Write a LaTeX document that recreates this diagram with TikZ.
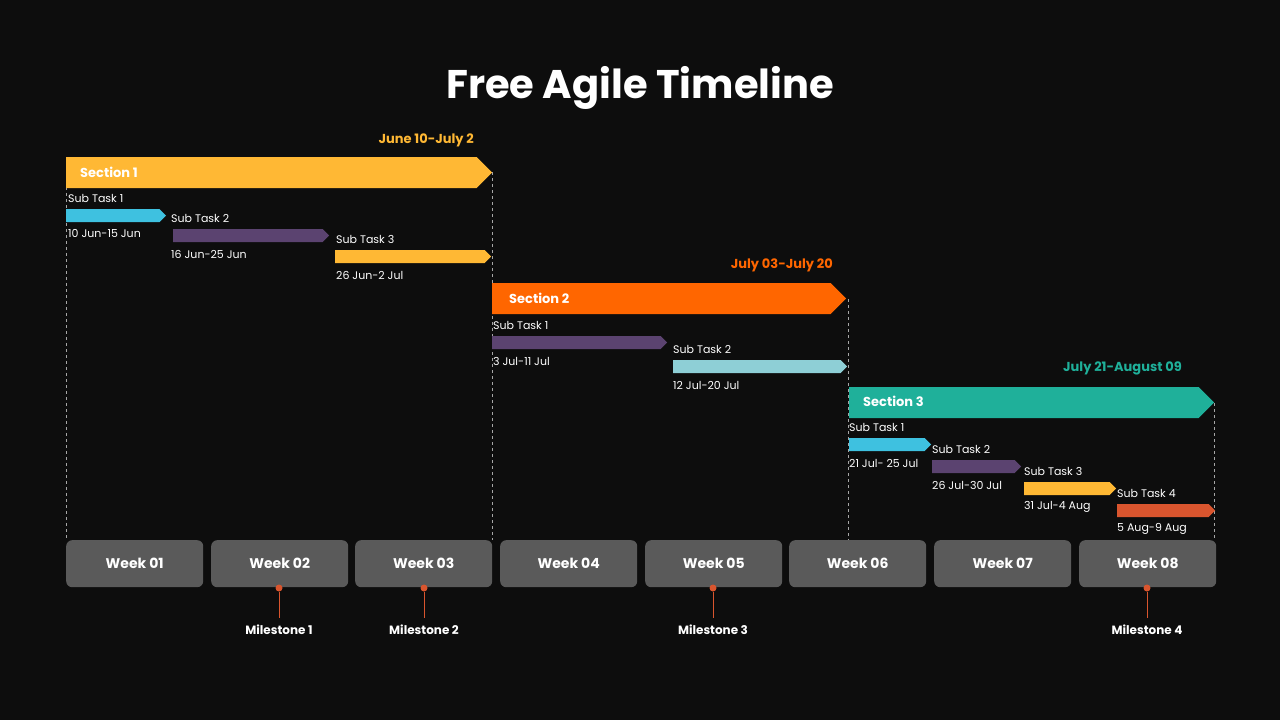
\documentclass[tikz,border=0pt]{standalone}
\usepackage{fontspec}
\setmainfont{Poppins}
\usepackage{tikz}
\usetikzlibrary{calc}
\definecolor{bgc}{HTML}{0D0D0D}
\definecolor{secA}{HTML}{FFB834}
\definecolor{secB}{HTML}{FF6600}
\definecolor{secC}{HTML}{1FB09A}
\definecolor{cyanc}{HTML}{3EC1E0}
\definecolor{purc}{HTML}{5B4370}
\definecolor{lblue}{HTML}{8ECFD6}
\definecolor{redc}{HTML}{D9552E}
\definecolor{weekc}{HTML}{5A5A5A}
\tikzset{
  small/.style={text=white,font=\fontsize{11}{12}\selectfont,inner sep=0pt,anchor=west},
  weekbox/.style={fill=weekc,rounded corners=6pt,minimum width=137pt,minimum height=47pt,anchor=north west,text=white,font=\fontsize{14}{16}\selectfont\bfseries},
  guide/.style={gray!70,dashed,thin},
}
% bar with an arrow tip: name, x1, x2, top, bottom, colour
\newcommand{\tipbar}[6]{%
  \fill[#6] (#2,#4) -- ({#3-0.5*(#5-#4)},#4) -- (#3,{0.5*(#4+#5)}) -- ({#3-0.5*(#5-#4)},#5) -- (#2,#5) -- cycle;
  \coordinate (#1) at (#2,#4);}
% sub task: name, x1, x2, y, colour, label x, label, date
\newcommand{\subtask}[8]{%
  \tipbar{#1}{#2}{#3}{#4}{#4+13}{#5}
  \node[small] (#1l) at (#6,#4-11) {#7};
  \node[small] (#1d) at (#6,#4+25) {#8};}
\begin{document}
\begin{tikzpicture}[x=1pt,y=-1pt]
\fill[bgc] (0,0) rectangle (1280,720);
\node[text=white,font=\fontsize{40}{44}\selectfont\bfseries] (title) at (640,88) {Free Agile Timeline};
%guides
\draw[guide] (66,187) -- (66,540);
\draw[guide] (492,172) -- (492,540);
\draw[guide] (848,299) -- (848,540);
\draw[guide] (1214,403) -- (1214,540);
%section 1
\tipbar{s1}{66}{492}{157}{188}{secA}
\node[small,text=white,font=\fontsize{13}{14}\selectfont\bfseries] (s1l) at (80,172) {Section 1};
\node[text=secA,font=\fontsize{13}{14}\selectfont\bfseries,anchor=east,inner sep=0pt] (s1d) at (474,140) {June 10-July 2};
\subtask{a1}{66}{166}{209}{cyanc}{68}{Sub Task 1}{10 Jun-15 Jun}
\subtask{a2}{173}{329}{229}{purc}{171}{Sub Task 2}{16 Jun-25 Jun}
\subtask{a3}{335}{491}{250}{secA}{336}{Sub Task 3}{26 Jun-2 Jul}
%section 2
\tipbar{s2}{492}{846}{283}{314}{secB}
\node[small,font=\fontsize{13}{14}\selectfont\bfseries] (s2l) at (509,298) {Section 2};
\node[text=secB,font=\fontsize{13}{14}\selectfont\bfseries,anchor=east,inner sep=0pt] (s2d) at (833,265) {July 03-July 20};
\subtask{b1}{492}{667}{336}{purc}{493}{Sub Task 1}{3 Jul-11 Jul}
\subtask{b2}{673}{847}{360}{lblue}{673}{Sub Task 2}{12 Jul-20 Jul}
%section 3
\tipbar{s3}{849}{1214}{387}{418}{secC}
\node[small,font=\fontsize{13}{14}\selectfont\bfseries] (s3l) at (863,401) {Section 3};
\node[text=secC,font=\fontsize{13}{14}\selectfont\bfseries,anchor=east,inner sep=0pt] (s3d) at (1182,368) {July 21-August 09};
\subtask{c1}{849}{931}{438}{cyanc}{849}{Sub Task 1}{21 Jul- 25 Jul}
\subtask{c2}{932}{1021}{460}{purc}{932}{Sub Task 2}{26 Jul-30 Jul}
\subtask{c3}{1024}{1116}{482}{secA}{1024}{Sub Task 3}{31 Jul-4 Aug}
\subtask{c4}{1117}{1215}{504}{redc}{1117}{Sub Task 4}{5 Aug-9 Aug}
%weeks
\foreach \i/\x in {1/66,2/211,3/355,4/500,5/645,6/789,7/934,8/1079}
  \node[weekbox] (w\i) at (\x,540) {Week 0\i};
%milestones
\foreach \i/\x in {1/279,2/424,3/713,4/1147}{
  \node[circle,fill=redc,inner sep=0pt,minimum size=7pt] (m\i) at (\x,588) {};
  \node[text=white,font=\fontsize{12}{14}\selectfont\bfseries,inner sep=0pt] (ml\i) at (\x,630) {Milestone \i};
  \draw[redc,thick] (m\i) -- (\x,618);
}
\end{tikzpicture}
\end{document}
